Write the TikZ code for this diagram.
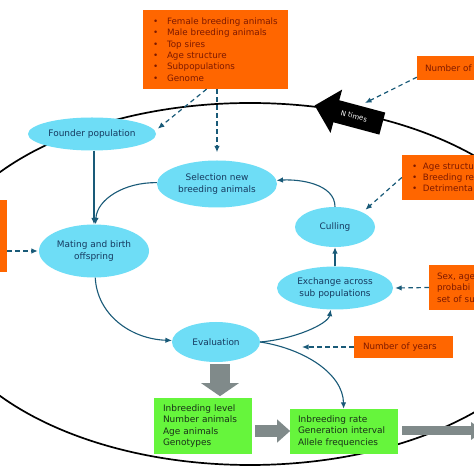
\documentclass[tikz,border=0pt]{standalone}
\usepackage{fontspec}
\setmainfont{DejaVu Sans}
\usetikzlibrary{arrows,arrows.meta,shapes}

\definecolor{stagefill}{RGB}{110,221,246}
\definecolor{stagetext}{RGB}{22,58,96}
\definecolor{inboxfill}{RGB}{255,102,0}
\definecolor{inboxtext}{RGB}{125,25,0}
\definecolor{outboxfill}{RGB}{102,245,60}
\definecolor{outboxtext}{RGB}{25,50,25}
\definecolor{flowline}{RGB}{25,90,120}
\definecolor{blockgray}{RGB}{128,138,138}
\newcommand{\bul}[1][14bp]{\makebox[#1][l]{\textbullet}}

\begin{document}
\begin{tikzpicture}[>={Latex[length=6.5bp,width=5.5bp]},line join=bevel,
  stage/.style={ellipse,fill=stagefill,text=stagetext,inner sep=0pt,align=center,font=\fontsize{9}{12}\selectfont},
  inbox/.style={rectangle,fill=inboxfill,text=inboxtext,inner sep=0pt,align=left,font=\fontsize{8.8}{11.4}\selectfont},
  outbox/.style={rectangle,fill=outboxfill,text=outboxtext,inner sep=0pt,align=left,font=\fontsize{9}{11.3}\selectfont},
  flow/.style={->,draw=flowline,line width=1.1bp},
  feed/.style={->,draw=flowline,line width=1.2bp,dash pattern=on 4.5bp off 3.5bp},
  block/.style={draw=blockgray,-{Triangle[width=0pt 1.85,length=13bp]}},
  ]
%%
\useasboundingbox (0bp,0bp) rectangle (474bp,474bp);
\fill [white] (0bp,0bp) rectangle (474bp,474bp);
\clip (0bp,0bp) rectangle (474bp,474bp);
% simulation loop
\draw [line width=1.7bp] (250bp,190bp) ellipse [x radius=318bp,y radius=181bp];
\node (ntimes) at (354bp,358bp) [single arrow,fill=black,text=white,shape border rotate=180,rotate=-15,minimum height=70bp,inner ysep=8.5bp,single arrow head extend=11bp,font=\fontsize{7}{8}\selectfont] {N times};
%
\node (founder) at (92bp,340bp) [stage,minimum width=128bp,minimum height=33bp] {Founder population};
  \node (select) at (217bp,290bp) [stage,minimum width=120bp,minimum height=47bp] {Selection new\\breeding animals};
  \node (cull) at (335bp,247bp) [stage,minimum width=80bp,minimum height=40bp] {Culling};
  \node (mating) at (94bp,223bp) [stage,minimum width=110bp,minimum height=53bp] {Mating and birth\\offspring};
  \node (exch) at (335bp,186bp) [stage,minimum width=116bp,minimum height=43bp] {Exchange across\\sub populations};
  \node (eval) at (216bp,132bp) [stage,minimum width=88bp,minimum height=40bp] {Evaluation};
  \node (green1) at (203bp,48bp) [outbox,minimum width=98bp,minimum height=56bp,text width=80bp] {Inbreeding level\\Number animals\\Age animals\\Genotypes};
  \node (green2) at (344bp,42.5bp) [outbox,minimum width=108bp,minimum height=45bp,text width=92bp] {Inbreeding rate\\Generation interval\\Allele frequencies};
%
  \draw [flow] (mating.north |- founder.south) -- (mating.north);
  \draw [flow] (select) ..controls (125bp,292bp) and (97bp,275bp) .. (mating);
  \draw [flow] (mating) ..controls (97bp,160bp) and (130bp,135bp) .. (eval);
  \draw [flow] (eval.east) ..controls (295bp,135bp) and (328bp,150bp) .. (exch);
  \draw [flow] (eval.east) ..controls (305bp,125bp) and (343bp,100bp) .. (green2);
  \draw [flow] (exch) -- (cull);
  \draw [flow] (cull) ..controls (335bp,290bp) and (300bp,295bp) .. (select);
%
  \draw [block,line width=20bp] ([xshift=4bp,yshift=-2bp]eval.south) -- ++(0bp,-32bp);
  \draw [block,line width=12bp] ([xshift=3bp,yshift=-5bp]green1.east) -- ++(35bp,0bp);
  \draw [block,line width=9bp] ([xshift=4bp,yshift=0.5bp]green2.east) -- ++(82bp,0bp);
%
\node (topbox) at (215.5bp,424.5bp) [inbox,minimum width=145bp,minimum height=79bp,text width=125bp] {\bul Female breeding animals\\\bul Male breeding animals\\\bul Top sires\\\bul Age structure\\\bul Subpopulations\\\bul Genome};
  \node (numbox) at (458.5bp,406bp) [inbox,minimum width=83bp,minimum height=24bp,text width=67bp] {Number of};
  \node (agebox) at (451bp,296.5bp) [inbox,minimum width=98bp,minimum height=45bp,text width=78bp] {\bul[11bp]Age structu\\\bul[11bp]Breeding re\\\bul[11bp]Detrimenta};
  \node (sexbox) at (464.5bp,186.5bp) [inbox,minimum width=71bp,minimum height=45bp,text width=55bp] {Sex, age\\probabi\\set of su};
  \node (yearsbox) at (403.5bp,127bp) [inbox,minimum width=99bp,minimum height=22bp,text width=81bp] {Number of years};
  \node (leftbox) at (-6.5bp,238bp) [inbox,minimum width=27bp,minimum height=72bp] {};
%
  \coordinate (ntip) at (365bp,371bp);
  \coordinate (ytip) at (302bp,127bp);
  \draw [feed] (topbox.south -| select.north) -- ([yshift=8bp]select.north);
  \draw [feed] ([xshift=-9bp]topbox.south) -- ([xshift=5bp]founder.5);
  \draw [feed] ([yshift=3bp]numbox.south west) -- (ntip);
  \draw [feed] (agebox.west) -- ([xshift=4bp,yshift=2bp]cull.30);
  \draw [feed] (sexbox.west) -- ([xshift=2bp]exch.east);
  \draw [feed] (yearsbox.west) -- (ytip);
  \draw [feed] (leftbox.east |- mating.west) -- ([xshift=-1bp]mating.west);
%
\end{tikzpicture}
\end{document}
